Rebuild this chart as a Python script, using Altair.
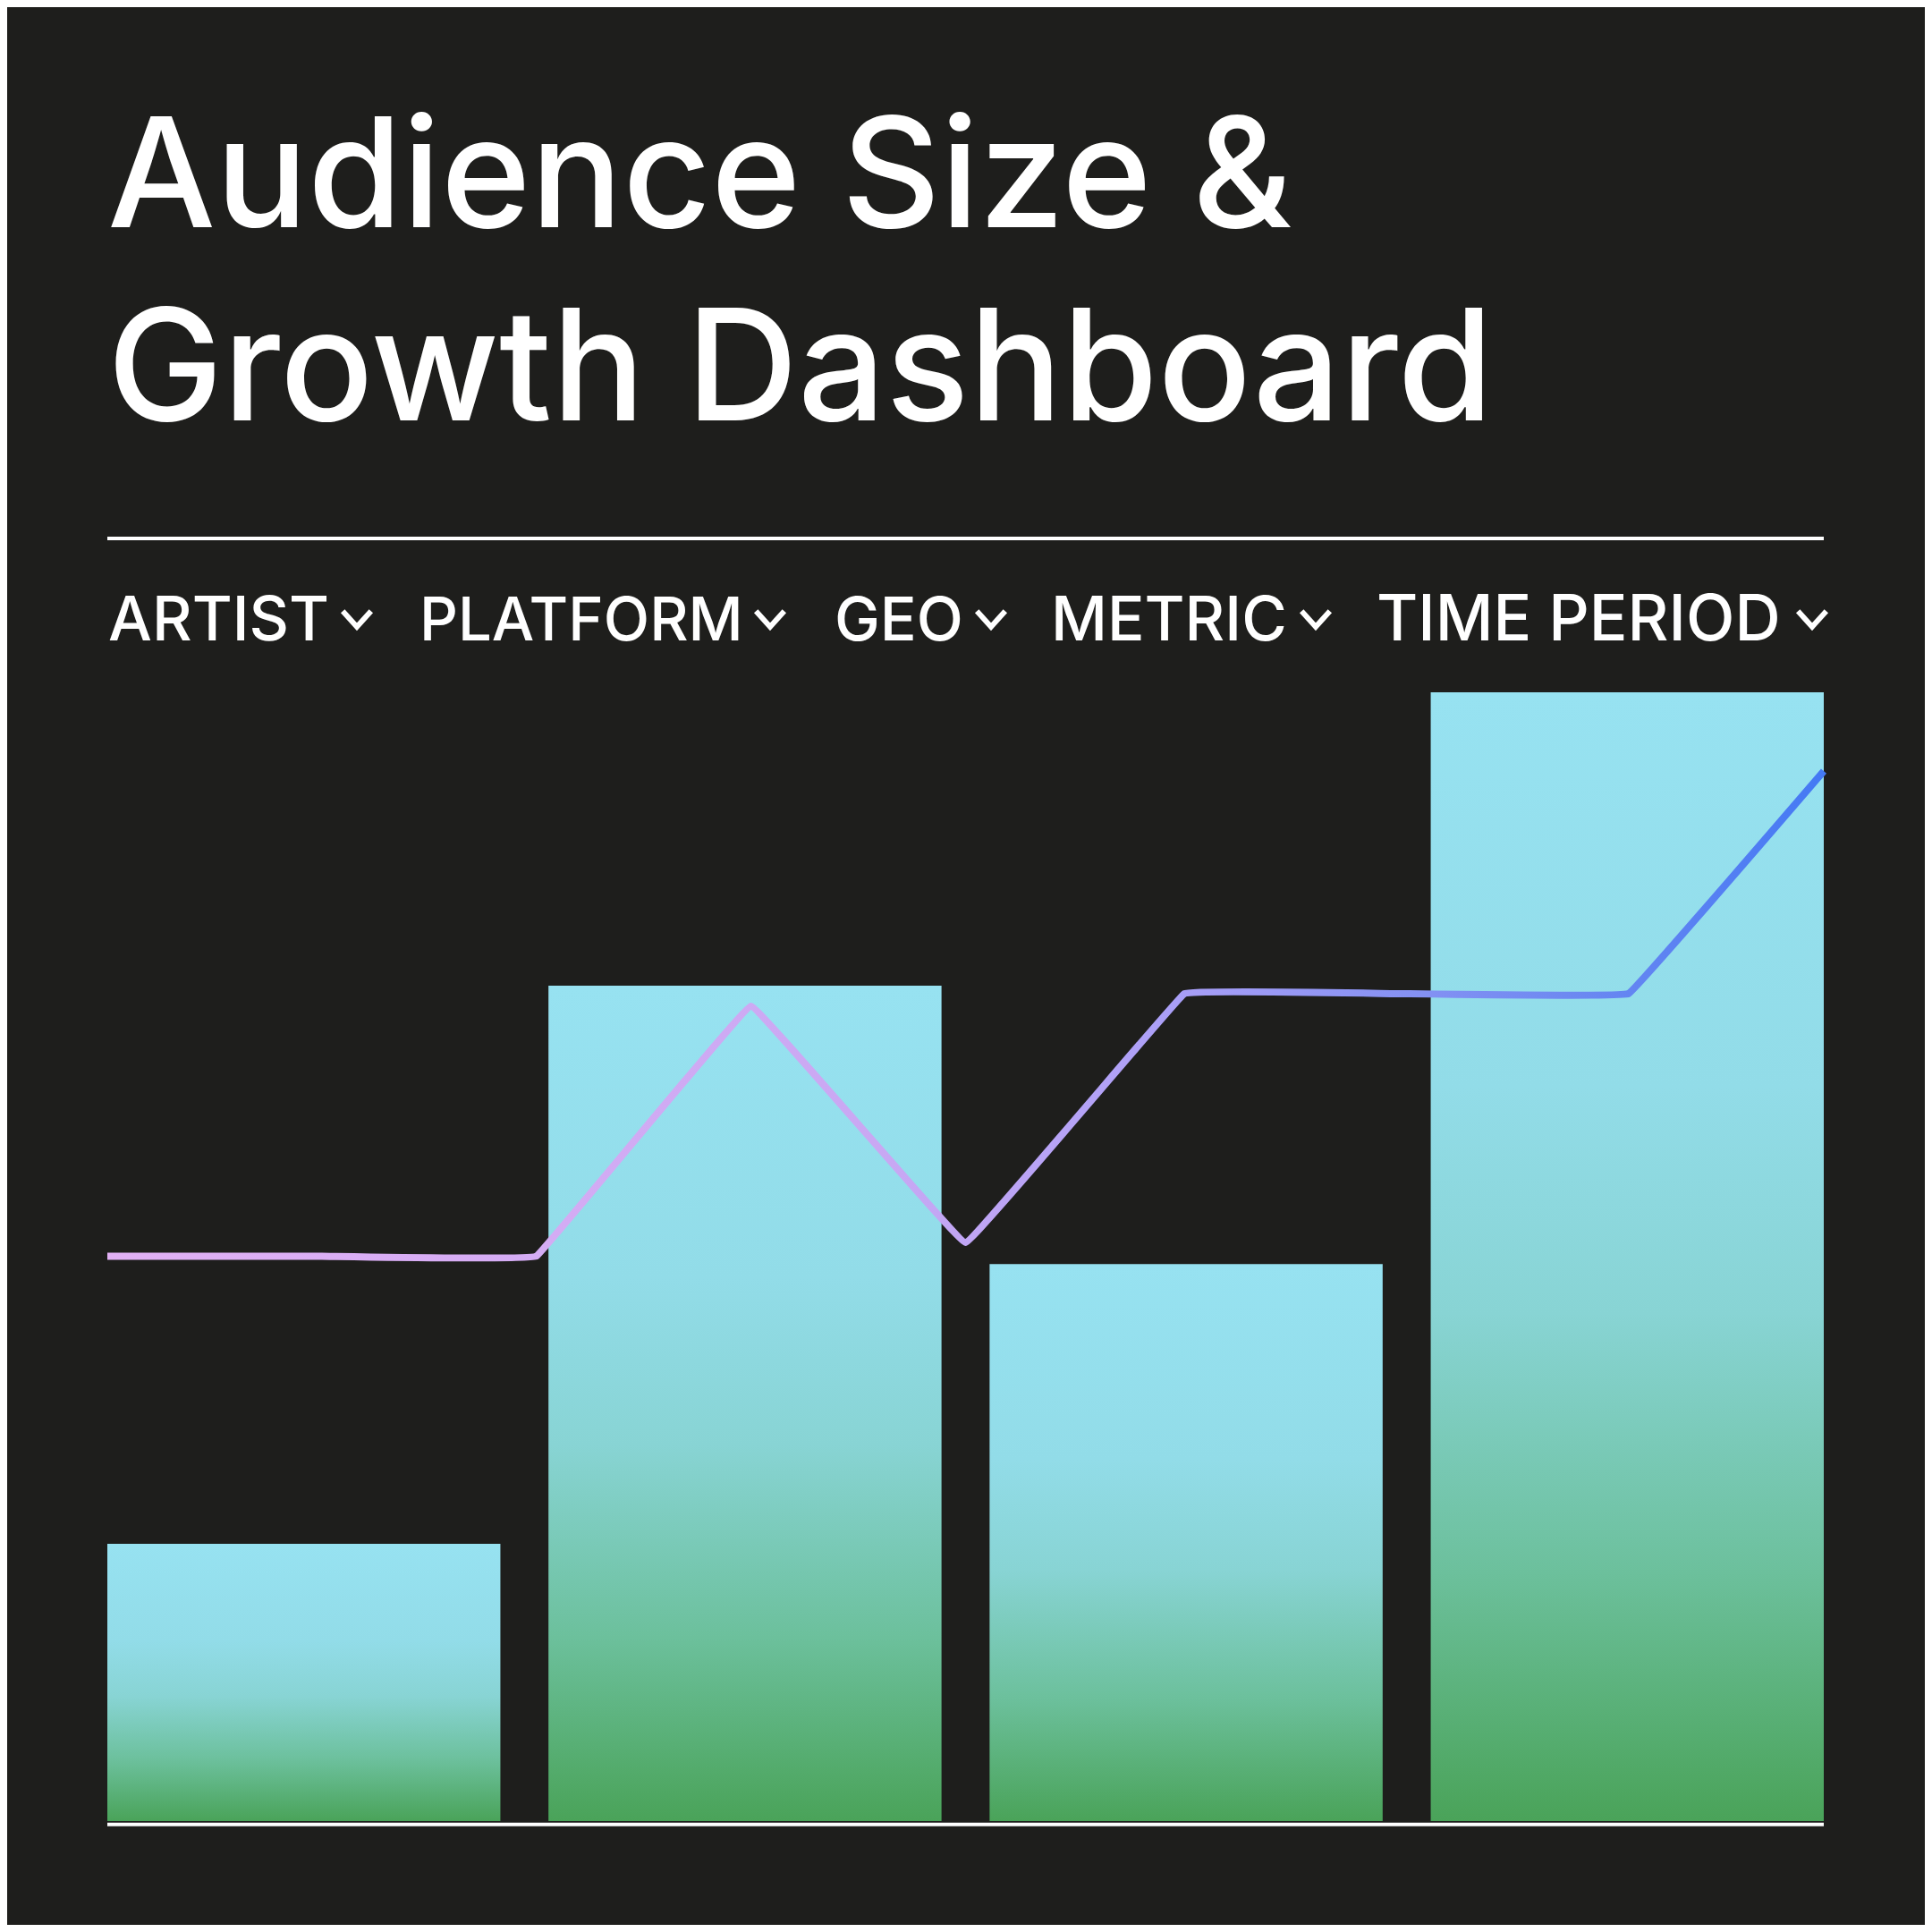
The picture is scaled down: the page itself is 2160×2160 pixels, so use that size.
import altair as alt
import pandas as pd

# ---- data ----
channels = ["Channel A", "Channel B", "Channel C", "Channel D"]
audience = [2.43, 7.32, 4.88, 9.89]          # audience size (bars)
growth_step = [0, 1, 2, 3, 4, 5.02, 6, 7.09, 8]   # growth series positions
growth = [4.95, 4.95, 4.95, 7.14, 5.07, 7.25, 7.25, 7.25, 9.20]
filters = ["ARTIST", "PLATFORM", "GEO", "METRIC", "TIME PERIOD"]
title_lines = ["Audience Size &", "Growth Dashboard"]

bars_df = pd.DataFrame({"channel": channels, "audience": audience})
line_df = pd.DataFrame({"step": growth_step, "growth": growth})
one = pd.DataFrame({"k": [0]})

W, H = 1919, 1276
BG = "#1E1E1C"
FONT = "Inter"

bar_grad = alt.Gradient(
    gradient="linear", x1=0, x2=0, y1=0, y2=1,
    stops=[
        alt.GradientStop(offset=0, color="#97E2F1"),
        alt.GradientStop(offset=0.35, color="#92DCE8"),
        alt.GradientStop(offset=0.55, color="#88D4D4"),
        alt.GradientStop(offset=0.78, color="#6CC09C"),
        alt.GradientStop(offset=1, color="#4AA359"),
    ],
)
line_grad = alt.Gradient(
    gradient="linear", x1=0, x2=1, y1=0, y2=0,
    stops=[
        alt.GradientStop(offset=0, color="#E2B1F5"),
        alt.GradientStop(offset=0.45, color="#C9A8F3"),
        alt.GradientStop(offset=0.6, color="#AFA1F7"),
        alt.GradientStop(offset=0.85, color="#6E89F1"),
        alt.GradientStop(offset=1, color="#4479F4"),
    ],
)

bars = alt.Chart(bars_df).mark_bar(color=bar_grad).encode(
    x=alt.X("channel:N", sort=channels, axis=None,
            scale=alt.Scale(paddingInner=0.109, paddingOuter=0)),
    y=alt.Y("audience:Q", axis=None, scale=alt.Scale(domain=[0, 10], nice=False)),
)

line = alt.Chart(line_df).mark_line(
    color=line_grad, strokeWidth=8, interpolate="cardinal", tension=0.9,
    strokeCap="butt", strokeJoin="round",
).encode(
    x=alt.X("step:Q", axis=None, scale=alt.Scale(domain=[0, 8], nice=False, zero=False)),
    y=alt.Y("growth:Q", axis=None, scale=alt.Scale(domain=[0, 10], nice=False)),
)

base_rule = alt.Chart(one).mark_rule(color="white", strokeWidth=4).encode(
    x=alt.value(0), x2=alt.value(W), y=alt.value(H + 3.7)
)
top_rule = alt.Chart(one).mark_rule(color="white", strokeWidth=4).encode(
    x=alt.value(0), x2=alt.value(W), y=alt.value(-158)
)

layers = [bars, line, base_rule, top_rule]

title_y = [-506.5, -290]
title_size = [171, 173]
for txt, ty, fs in zip(title_lines, title_y, title_size):
    layers.append(
        alt.Chart(one).mark_text(
            text=txt, align="left", baseline="alphabetic", font=FONT,
            fontSize=fs, fontWeight=500, color="white",
        ).encode(x=alt.value(0), y=alt.value(ty))
    )

label_x = [1, 349, 813, 1055, 1419]
label_size = [69, 67, 68, 69, 71]
chev_x = [279, 741, 988, 1351, 1906]
for lab, lx, fs, cx in zip(filters, label_x, label_size, chev_x):
    layers.append(
        alt.Chart(one).mark_text(
            text=lab, align="left", baseline="alphabetic", font=FONT,
            fontSize=fs, fontWeight=500, color="white",
        ).encode(x=alt.value(lx), y=alt.value(-44))
    )
    layers.append(
        alt.Chart(one).mark_point(
            shape="M-1,-0.55L0,0.55L1,-0.55", filled=False, stroke="white",
            strokeWidth=6, size=1000, opacity=1,
        ).encode(x=alt.value(cx), y=alt.value(-68))
    )

chart = alt.layer(*layers).resolve_scale(
    x="independent", y="independent"
).properties(
    width=W, height=H,
    autosize=alt.AutoSizeParams(type="none"),
    padding={"left": 112, "top": 752, "right": 113, "bottom": 116},
    background=BG,
).configure_view(stroke=None)

chart.save("out.html", embed_options={"renderer": "svg", "actions": False})
